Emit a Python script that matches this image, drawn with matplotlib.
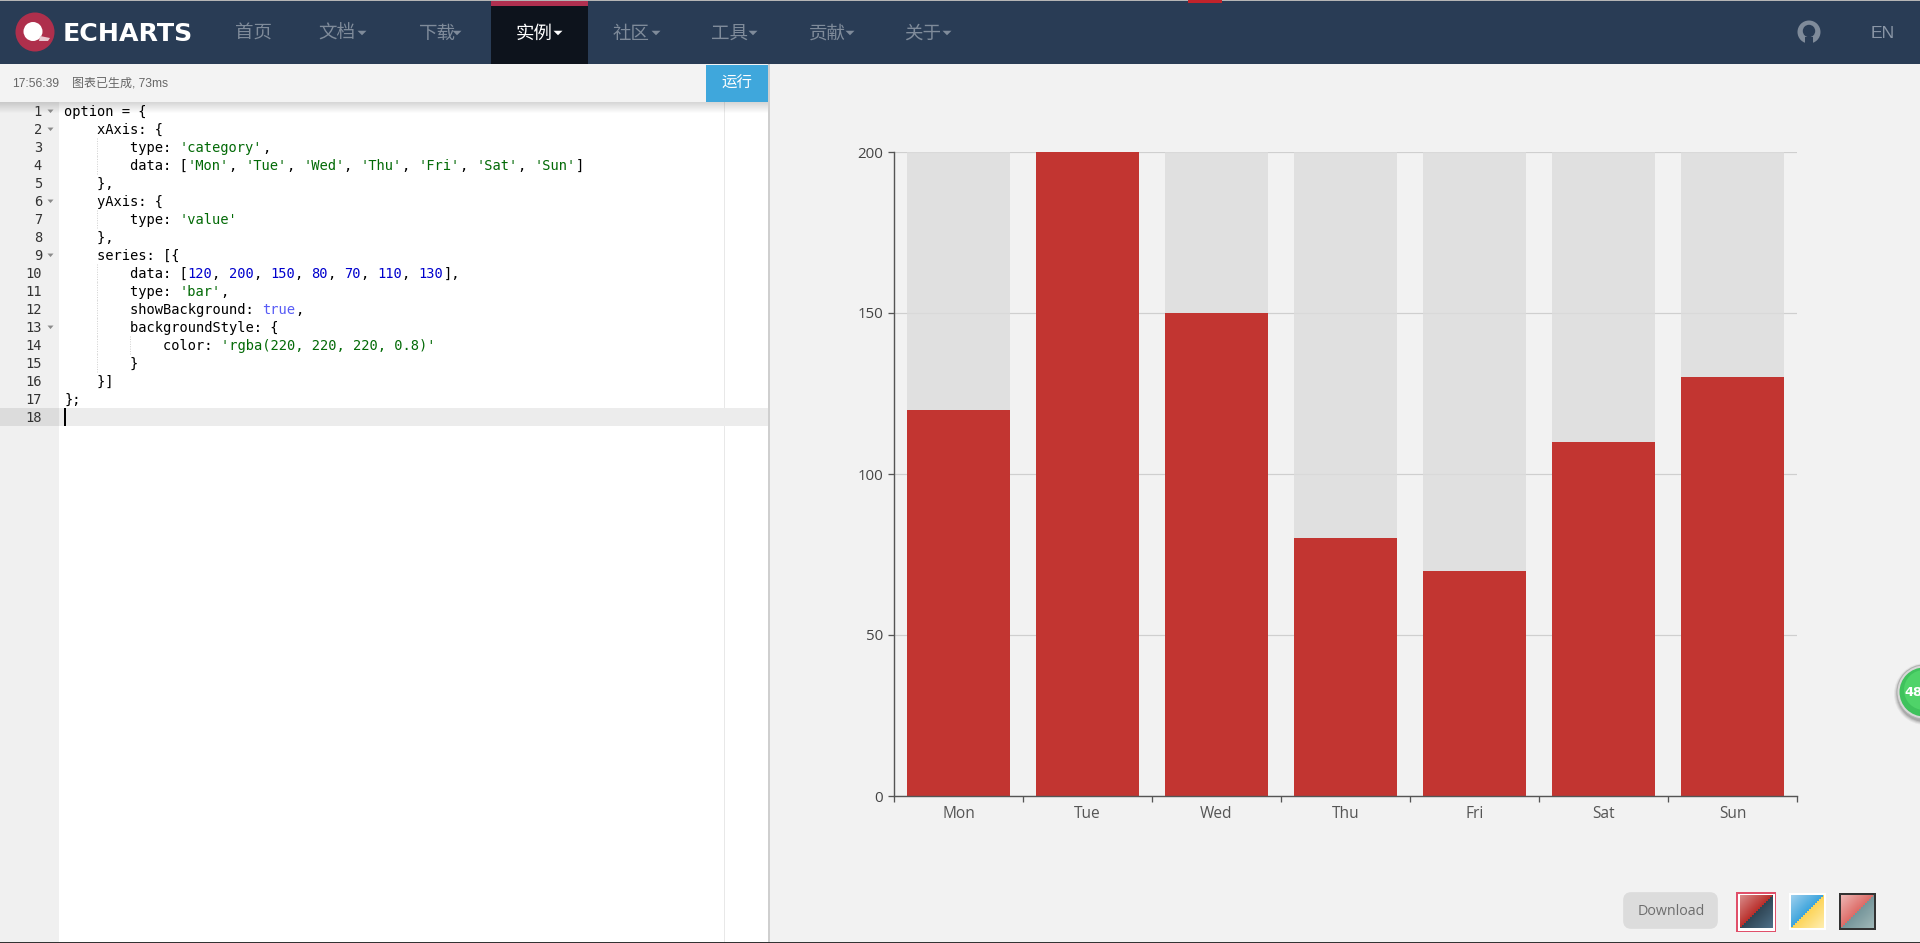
import re
import numpy as np
import matplotlib
matplotlib.use('Agg')
import matplotlib.pyplot as plt
from matplotlib.patches import Rectangle, Circle, FancyBboxPatch, Polygon

CJK = ['Noto Sans CJK SC', 'DejaVu Sans']
plt.rcParams['font.family'] = CJK

# ---- chart data ----
categories = ['Mon', 'Tue', 'Wed', 'Thu', 'Fri', 'Sat', 'Sun']
values = [120, 200, 150, 80, 70, 110, 130]
y_ticks = [0, 50, 100, 150, 200]
y_max = 200

# ---- page text ----
nav_items = ['首页', '文档', '下载', '实例', '社区', '工具', '贡献', '关于']
code_lines = [
    "option = {",
    "    xAxis: {",
    "        type: 'category',",
    "        data: ['Mon', 'Tue', 'Wed', 'Thu', 'Fri', 'Sat', 'Sun']",
    "    },",
    "    yAxis: {",
    "        type: 'value'",
    "    },",
    "    series: [{",
    "        data: [120, 200, 150, 80, 70, 110, 130],",
    "        type: 'bar',",
    "        showBackground: true,",
    "        backgroundStyle: {",
    "            color: 'rgba(220, 220, 220, 0.8)'",
    "        }",
    "    }]",
    "};",
    "",
]
fold_lines = [1, 2, 6, 9, 13]

W, H = 1920, 943
fig = plt.figure(figsize=(W / 100, H / 100), dpi=100, facecolor='#f2f2f2')
pg = fig.add_axes([0, 0, 1, 1], zorder=0)
pg.set_axis_off()


def rect(x0, y0, x1, y1, c, z=1, **kw):
    pg.add_patch(Rectangle((x0, y0), x1 - x0, y1 - y0, fc=c, ec='none', zorder=z, **kw))


def caret(xc, yc, c, w=4.5, h=4.5, z=3):
    pg.add_patch(Polygon([(xc - w, yc - h / 2), (xc + w, yc - h / 2), (xc, yc + h / 2)],
                         closed=True, fc=c, ec='none', zorder=z))


def px(v):
    return v * 0.72


# ---- nav bar ----
rect(0, 0, W, 1, '#b5b5b5')
rect(0, 1, W, 64, '#293c55')
rect(491, 1, 588, 64, '#0d131c', z=2)
rect(491, 1, 588, 6, '#b03050', z=3)
rect(1188, 0, 1222, 3, '#c1232b', z=3)

pg.add_patch(Circle((35, 32), 19.5, fc='#ae2f4c', ec='none', zorder=3))
pg.add_patch(Circle((33, 31.5), 9.5, fc='#ffffff', ec='none', zorder=4))
pg.add_patch(Polygon([(40, 36), (50, 38), (48, 41), (39, 41)], fc='#e8c8d0', ec='none', zorder=4))
pg.text(128, 41, 'ECHARTS', family='DejaVu Sans', weight='bold', fontsize=px(25.2),
        color='#ffffff', ha='center', va='baseline', zorder=4)

nav_x = [254, 337, 437, 534, 631, 729, 827, 923]
nav_caret = [None, 362, 457, 558, 656, 753, 850, 947]
for name, xc, cx in zip(nav_items, nav_x, nav_caret):
    col = '#ffffff' if name == '实例' else '#7f8b9a'
    pg.text(xc, 39, name, color=col, fontsize=px(18.5), ha='center', va='baseline', zorder=4)
    if cx:
        caret(cx, 33, col, z=4)

# GitHub mark
pg.add_patch(Circle((1809, 32), 11.5, fc='#7f8b9a', ec='none', zorder=3))
pg.add_patch(Circle((1809, 31), 6.2, fc='#293c55', ec='none', zorder=4))
pg.add_patch(Polygon([(1805, 37), (1813, 37), (1813, 44), (1805, 44)], fc='#293c55', ec='none', zorder=4))
pg.add_patch(Polygon([(1800, 35), (1805, 38), (1805, 41), (1801, 39)], fc='#7f8b9a', ec='none', zorder=5))

pg.text(1883, 38, 'EN', family='Liberation Sans', color='#8a96a6', fontsize=px(17.5),
        ha='center', va='baseline', zorder=4)

# ---- left editor ----
rect(0, 64, 768, 102, '#f3f3f3', z=2)
rect(0, 102, 59, H, '#f0f0f0', z=1)
rect(59, 102, 768, H, '#ffffff', z=1)
rect(724, 102, 725, H, '#e8e8e8', z=2)
rect(768, 64, 770, H, '#cfcfcf', z=2)
rect(706, 65, 768, 102, '#3fa7dc', z=3)
pg.text(737, 88, '运行', color='#ffffff', fontsize=px(15.5), ha='center', va='baseline', zorder=4)
pg.text(12.5, 87, '17:56:39', family='Liberation Sans', color='#666666', fontsize=px(12),
        ha='left', va='baseline', zorder=4)
pg.text(72, 87, '图表已生成, 73ms', family=['Liberation Sans', 'Noto Sans CJK SC'], color='#666666',
        fontsize=px(12), ha='left', va='baseline', zorder=4)

LINE0, LH, X0, CW = 111.3, 18.0, 64.0, 8.25
rect(0, 408, 59, 426, '#dcdcdc', z=2)
rect(59, 408, 768, 426, '#ececec', z=2)
rect(64, 408, 66, 426, '#000000', z=5)

for col, lines in [(4, [3, 4, 7, 10, 11, 12, 13, 14, 15]), (8, [14])]:
    for ln in lines:
        xg = X0 + col * CW - 0.5
        yc = LINE0 + (ln - 1) * LH
        pg.plot([xg, xg], [yc - 9, yc + 9], color='#cfcfcf', lw=0.7, ls=(0, (1, 1.5)), zorder=2)

TOK = re.compile(r"('[^']*')|(\b\d+\b)|(\btrue\b)")
MONO = 'DejaVu Sans Mono'
FS = px(13.7)
for i, line in enumerate(code_lines):
    n = i + 1
    yb = LINE0 + i * LH + 4.5
    pg.text(42, yb, str(n), family=MONO, color='#333333', fontsize=FS,
            ha='right', va='baseline', zorder=4)
    if n in fold_lines:
        caret(50.5, LINE0 + i * LH, '#8a8a8a', w=3, h=3.5, z=4)
    pos = 0
    parts = []
    for m in TOK.finditer(line):
        if m.start() > pos:
            parts.append((pos, line[pos:m.start()], '#000000'))
        c = '#036a07' if m.group(1) else ('#0000cd' if m.group(2) else '#585cf6')
        parts.append((m.start(), m.group(0), c))
        pos = m.end()
    if pos < len(line):
        parts.append((pos, line[pos:], '#000000'))
    for col, s, c in parts:
        pg.text(X0 + col * CW, yb, s, family=MONO, color=c, fontsize=FS,
                ha='left', va='baseline', zorder=4)

# toolbar shadow
sh = np.zeros((12, 1, 4))
sh[:, 0, 3] = np.linspace(0.16, 0, 12)
pg.imshow(sh, extent=(0, 768, 114, 102), aspect='auto', zorder=3, interpolation='bilinear')

# ---- bottom right controls ----
pg.add_patch(FancyBboxPatch((1627, 896), 87, 29, boxstyle='round,pad=0,rounding_size=4',
                            fc='#dcdcdc', ec='#dcdcdc', lw=5.5, zorder=2))
pg.text(1671, 915, 'Download', family='Open Sans', color='#6e6e6e', fontsize=px(14.3),
        ha='center', va='baseline', zorder=3)


def swatch(x0, y0, x1, y1, a0, a1, b0, b1):
    """Two diagonal gradient triangles filling a square."""
    n = 64
    u, v = np.meshgrid(np.linspace(0, 1, n), np.linspace(0, 1, n))
    d = (u + v) / 2
    upper = (u + v) < 1
    a0, a1, b0, b1 = [np.array(matplotlib.colors.to_rgb(c)) for c in (a0, a1, b0, b1)]
    img = np.zeros((n, n, 3))
    ta = np.clip(d * 2, 0, 1)[..., None]
    tb = np.clip(d * 2 - 1, 0, 1)[..., None]
    ca = a0 + (a1 - a0) * ta
    cb = b0 + (b1 - b0) * tb
    img[upper] = ca[upper]
    img[~upper] = cb[~upper]
    pg.imshow(img, extent=(x0, x1, y1, y0), aspect='auto', zorder=4, interpolation='nearest')


rect(1736, 892, 1776, 932, '#e0506a', z=2)
rect(1737.5, 893.5, 1774.5, 930.5, '#ffffff', z=3)
swatch(1740, 895, 1773, 928, '#d88a88', '#b92e2a', '#2f4554', '#4f7088')
rect(1789, 893, 1826, 930, '#ffffff', z=2)
swatch(1791, 895, 1824, 928, '#9ccfee', '#3ca4dc', '#fdd458', '#ffeeb0')
rect(1839, 893, 1876, 930, '#333333', z=2)
swatch(1841, 895, 1874, 928, '#edb5b3', '#dd6b66', '#75959a', '#a0b8b8')
rect(0, 941.5, W, H, '#333333', z=5)

# ---- floating ball ----
for r, a in [(31, .05), (30, .07), (29, .09), (28, .12)]:
    pg.add_patch(Circle((1925, 694), r, fc='#000000', alpha=a, ec='none', zorder=5))
pg.add_patch(Circle((1924, 692), 27, fc='#d8d8d8', ec='#b0b0b0', lw=.7, zorder=6))
pg.add_patch(Circle((1924, 692), 24.5, fc='#3fc25c', ec='none', zorder=7))
pg.add_patch(Circle((1924, 690), 20, fc='#4fd369', ec='none', zorder=7))
pg.text(1904, 696.5, '48', family='DejaVu Sans', weight='bold', color='#ffffff', fontsize=px(13),
        ha='left', va='baseline', zorder=8)

pg.set_xlim(0, W)
pg.set_ylim(H, 0)

# ---- the chart ----
L, R, T, B = 894, 1797, 152, 796
ax = fig.add_axes([L / W, (H - B) / H, (R - L) / W, (B - T) / H], zorder=2)
ax.patch.set_alpha(0)
xs = np.arange(len(categories))
ax.bar(xs, [y_max] * len(xs), width=0.8, color=(220 / 255, 220 / 255, 220 / 255, 0.8), zorder=2)
ax.bar(xs, values, width=0.8, color='#c23531', zorder=3)
ax.set_xlim(-0.5, len(categories) - 0.5)
ax.set_ylim(0, y_max)
ax.set_yticks(y_ticks)
ax.set_xticks(np.arange(len(categories) + 1) - 0.5)
ax.set_xticklabels([])
ax.set_xticks(xs, categories, minor=True)
ax.tick_params(axis='x', which='major', length=px(6), width=px(1.3), color='#555555')
ax.tick_params(axis='x', which='minor', length=0, pad=px(10.5), labelsize=px(15.5), labelcolor='#555555')
ax.tick_params(axis='y', length=px(6), width=px(1.3), color='#555555', pad=px(5),
               labelsize=px(15), labelcolor='#444444')
for lab in ax.get_xticklabels(minor=True) + ax.get_yticklabels():
    lab.set_family('Open Sans')
ax.grid(axis='y', color='#cfcfcf', lw=px(1.2), zorder=1)
ax.set_axisbelow(True)
for s in ('top', 'right'):
    ax.spines[s].set_visible(False)
for s in ('left', 'bottom'):
    ax.spines[s].set_color('#555555')
    ax.spines[s].set_linewidth(px(1.4))
    ax.spines[s].set_zorder(5)

fig.savefig('out.png', dpi=100, facecolor=fig.get_facecolor())
